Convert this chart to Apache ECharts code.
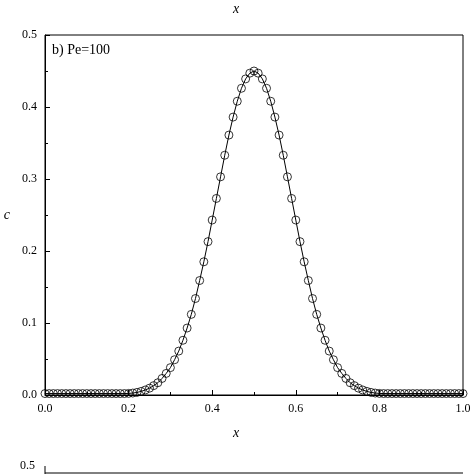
<!DOCTYPE html>
<html><head><meta charset="utf-8">
<script src="https://cdn.jsdelivr.net/npm/echarts@6/dist/echarts.min.js"></script>
<style>html,body{margin:0;padding:0;background:#fff}#c{width:474px;height:474px}</style>
</head><body><div id="c"></div>
<script>
const halfProfile = [0.45,0.447,0.439,0.426,0.408,0.386,0.361,0.333,0.303,0.273,0.243,0.213,0.185,0.159,0.134,0.112,0.093,0.076,0.061,0.049,0.038,0.030,0.023,0.017,0.013,0.0095,0.007,0.005,0.0036,0.0027,0.0022,0.002,0.002,0.002,0.002,0.002,0.002,0.002,0.002,0.002,0.002,0.002,0.002,0.002,0.002,0.002,0.002,0.002,0.002,0.002,0.002];
const xValues = [];
for (let i = 0; i <= 100; i++) xValues.push(+(i / 100).toFixed(2));
const cValues = xValues.map((x, i) => halfProfile[Math.abs(50 - i)]);
const xTicks = ['0.0','0.2','0.4','0.6','0.8','1.0'];
const yTicks = ['0.0','0.1','0.2','0.3','0.4','0.5'];
const data = xValues.map((x, i) => [x, cValues[i]]);
const font = 'Liberation Serif';
const chart = echarts.init(document.getElementById('c'));
chart.setOption({
  animation: false,
  grid: {left: 45, right: 11, top: 35, bottom: 79, show: true, borderColor: '#000', borderWidth: 1, outerBoundsMode: 'none', containLabel: false},
  xAxis: {type: 'value', min: 0, max: 1, interval: 0.2,
    axisLine: {lineStyle: {color: '#000'}}, axisTick: {inside: true, length: 5, lineStyle: {color: '#000'}},
    minorTick: {show: true, splitNumber: 2, length: 3, lineStyle: {color: '#000'}},
    splitLine: {show: false},
    axisLabel: {color: '#000', fontFamily: font, fontSize: 12, formatter: v => xTicks[Math.round(v / 0.2)]}},
  yAxis: {type: 'value', min: 0, max: 0.5, interval: 0.1,
    name: 'c', nameLocation: 'middle', nameGap: 35, nameRotate: 0, nameTextStyle: {fontFamily: font, fontStyle: 'italic', fontSize: 14, color: '#000'},
    axisLine: {lineStyle: {color: '#000'}}, axisTick: {inside: true, length: 5, lineStyle: {color: '#000'}},
    minorTick: {show: true, splitNumber: 2, length: 3, lineStyle: {color: '#000'}},
    splitLine: {show: false},
    axisLabel: {color: '#000', fontFamily: font, fontSize: 12, formatter: v => yTicks[Math.round(v * 10)]}},
  series: [{type: 'line', data: data, symbol: 'circle', symbolSize: 8, showSymbol: true,
    lineStyle: {color: '#000', width: 1},
    itemStyle: {color: 'rgba(255,255,255,0)', borderColor: '#000', borderWidth: 0.8}}],
  graphic: [
    {type: 'text', left: 233, top: 2, style: {text: 'x', font: 'italic 14px Liberation Serif', fill: '#000'}},
    {type: 'text', left: 52, top: 43, style: {text: 'b) Pe=100', font: '14px Liberation Serif', fill: '#000'}},
    {type: 'text', left: 233, top: 426, style: {text: 'x', font: 'italic 14px Liberation Serif', fill: '#000'}},
    {type: 'text', left: 20, top: 460, style: {text: '0.5', font: '12px Liberation Serif', fill: '#000'}},
    {type: 'line', shape: {x1: 45, y1: 473, x2: 463, y2: 473}, style: {stroke: '#000', lineWidth: 1}},
    {type: 'line', shape: {x1: 45, y1: 466, x2: 45, y2: 474}, style: {stroke: '#000', lineWidth: 1}}
  ]
});
</script></body></html>
